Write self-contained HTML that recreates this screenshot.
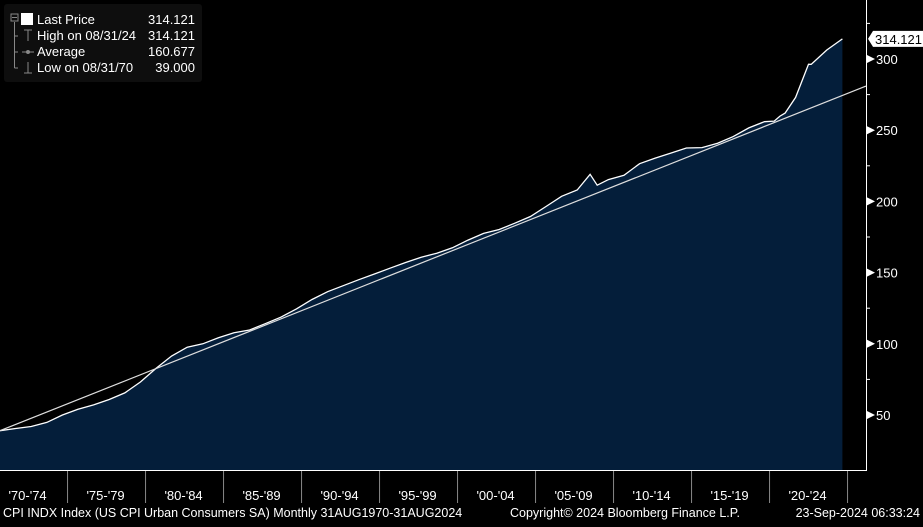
<!DOCTYPE html>
<html><head><meta charset="utf-8"><style>
html,body{margin:0;padding:0;background:#000;}
body{width:923px;height:522px;overflow:hidden;font-family:"Liberation Sans","DejaVu Sans",sans-serif;}
svg text{font-family:"Liberation Sans","DejaVu Sans",sans-serif;}
</style></head><body>
<svg id="chart" width="923" height="522" xmlns="http://www.w3.org/2000/svg">
<rect width="923" height="522" fill="#000"/>
<g id="plot"></g>
<g id="axes"></g>
<g>
<rect x="4" y="4" width="198" height="78" rx="3" fill="#0e0e0e"/>
<g stroke="#888" fill="none" stroke-width="1">
<rect x="11" y="14" width="7" height="7"/><line x1="12" y1="17.5" x2="17" y2="17.5"/>
<line x1="14.5" y1="22" x2="14.5" y2="68"/><line x1="14.5" y1="36" x2="18" y2="36"/><line x1="14.5" y1="52" x2="18" y2="52"/><line x1="14.5" y1="68" x2="18" y2="68"/>
<line x1="24" y1="30" x2="32" y2="30"/><line x1="28" y1="30" x2="28" y2="41"/>
<line x1="22" y1="52" x2="34" y2="52"/><circle cx="28" cy="52" r="1.5" fill="#888"/>
<line x1="24" y1="73" x2="32" y2="73"/><line x1="28" y1="62" x2="28" y2="73"/>
</g>
<rect x="21" y="13" width="12" height="12" fill="#fff"/>
<g fill="#fff" font-size="13">
<text x="37" y="24">Last Price</text>
<text x="195" y="24" text-anchor="end">314.121</text>
<text x="37" y="40">High on 08/31/24</text>
<text x="195" y="40" text-anchor="end">314.121</text>
<text x="37" y="56">Average</text>
<text x="195" y="56" text-anchor="end">160.677</text>
<text x="37" y="72">Low on 08/31/70</text>
<text x="195" y="72" text-anchor="end">39.000</text>
</g>
</g>
<g fill="#fff" font-size="12.5">
<text x="3" y="517">CPI INDX Index (US CPI Urban Consumers SA)  Monthly 31AUG1970-31AUG2024</text>
<text x="510" y="517">Copyright© 2024 Bloomberg Finance L.P.</text>
<text x="920" y="517" text-anchor="end">23-Sep-2024 06:33:24</text>
</g>
</svg>
<script>
const years=[1970.67,1971.67,1972.67,1973.67,1974.67,1975.67,1976.67,1977.67,1978.67,1979.67,1980.67,1981.67,1982.67,1983.67,1984.67,1985.67,1986.67,1987.67,1988.67,1989.67,1990.67,1991.67,1992.67,1993.67,1994.67,1995.67,1996.67,1997.67,1998.67,1999.67,2000.67,2001.67,2002.67,2003.67,2004.67,2005.67,2006.67,2007.67,2008.5,2008.95,2009.67,2010.67,2011.67,2012.67,2013.67,2014.67,2015.67,2016.67,2017.67,2018.67,2019.67,2020.3,2020.67,2021.0,2021.67,2022.5,2022.67,2023.67,2024.67];
const cpi=[39.0,40.5,41.9,44.8,50.0,54.0,57.1,60.9,65.5,73.2,82.7,91.4,97.6,100.0,104.2,107.8,109.7,114.1,118.7,124.5,131.1,136.6,140.8,145.0,149.0,153.1,157.1,160.8,163.6,167.4,172.8,177.5,180.3,184.7,189.4,196.4,203.6,208.0,219.0,211.4,215.3,218.3,226.5,230.4,233.9,237.5,237.8,240.9,245.5,251.6,256.0,256.4,259.9,262.0,273.0,296.3,296.3,306.3,314.121];
const yTicks=[50,100,150,200,250,300];
const xLabels=["'70-'74","'75-'79","'80-'84","'85-'89","'90-'94","'95-'99","'00-'04","'05-'09","'10-'14","'15-'19","'20-'24"];
const trendStart=39.0, trendEnd=281.0;
const NS="http://www.w3.org/2000/svg";
const X=t=>(t-1970.67)*15.6;
const Y=v=>415-(v-50)*1.424;
const plot=document.getElementById('plot'), axes=document.getElementById('axes');
function mk(tag,attrs,parent){const e=document.createElementNS(NS,tag);for(const k in attrs)e.setAttribute(k,attrs[k]);parent.appendChild(e);return e;}
let pts=years.map((t,i)=>X(t).toFixed(1)+','+Y(cpi[i]).toFixed(1));
const area=mk('polygon',{points:pts.join(' ')+' '+X(years[years.length-1]).toFixed(1)+',470 0,470',fill:'#041e3a'},plot);


const line=mk('polyline',{points:pts.join(' '),fill:'none',stroke:'#fff','stroke-width':1.3},plot);


const tr=mk('line',{x1:0,y1:Y(trendStart),x2:866,y2:Y(trendEnd),stroke:'#ddd','stroke-width':1.2},plot);


mk('line',{x1:866.5,y1:0,x2:866.5,y2:470,stroke:'#fff','stroke-width':1},axes);
mk('line',{x1:0,y1:470.5,x2:867,y2:470.5,stroke:'#fff','stroke-width':1},axes);
yTicks.forEach(v=>{
  const y=Y(v);
  mk('line',{x1:866,y1:y-35.6,x2:870,y2:y-35.6,stroke:'#fff'},axes);
  mk('polygon',{points:`867,${y-4} 875,${y} 867,${y+4}`,fill:'#fff'},axes);
  const t=mk('text',{x:876,y:y+5,fill:'#fff','font-size':13},axes);
  t.textContent=v;
  
  
});
const ly=Y(cpi[cpi.length-1]);
const lb=mk('polygon',{points:`868,${ly} 873,${ly-8} 923,${ly-8} 923,${ly+8} 873,${ly+8}`,fill:'#fff'},axes);


const lt=mk('text',{x:875,y:ly+5,fill:'#000','font-size':13},axes);
lt.textContent=cpi[cpi.length-1].toFixed(3);
xLabels.forEach((s,i)=>{
  const x0=X(1975+5*i);
  mk('line',{x1:x0,y1:471,x2:x0,y2:503,stroke:'#888'},axes);
  const t=mk('text',{x:X(1972.5+5*i)-1,y:500,fill:'#fff','font-size':13,'text-anchor':'middle'},axes);
  t.textContent=s;
  
  
});
</script>
</body></html>
